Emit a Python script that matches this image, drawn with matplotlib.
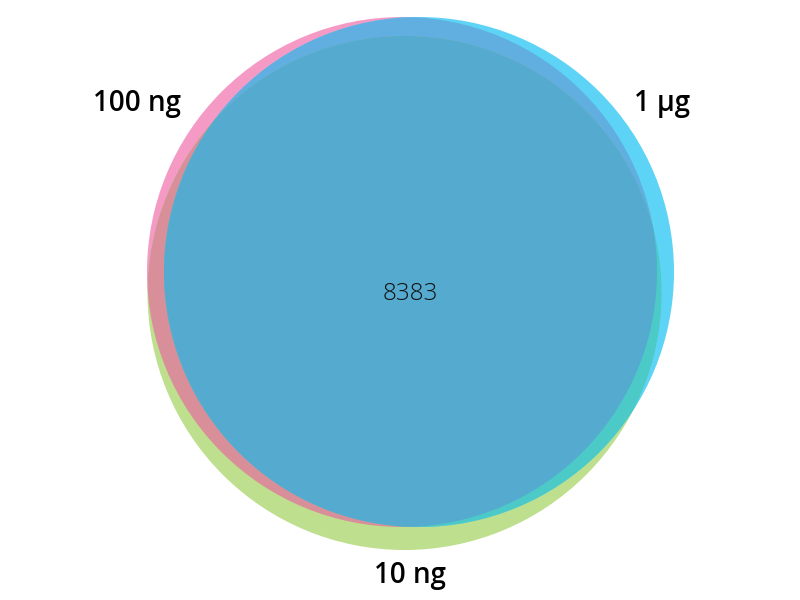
import numpy as np
import matplotlib
matplotlib.use('Agg')
import matplotlib.pyplot as plt
from matplotlib.patches import Circle, Polygon

# data
set_labels = ['100 ng', '1 µg', '10 ng']
shared_count = 8383

# colours: single sets, pairs and the triple region
set_colors = ['#F49AC5', '#5DD3F5', '#BEDF8D']
pair_colors = {(0, 1): '#60AFE0', (0, 2): '#D98F9A', (1, 2): '#4CCAC8'}
triple_color = '#55ABCF'

# layout (pixel space, y down)
centers = [(402, 272), (419, 272), (404.5, 293)]
radii = [255, 255, 257]
label_pos = [(137, 104), (662, 104), (410, 575)]

fig = plt.figure(figsize=(8, 6), dpi=100)
ax = fig.add_axes([0, 0, 1, 1])
ax.set_xlim(0, 800)
ax.set_ylim(600, 0)
ax.set_aspect('equal')
ax.axis('off')

circles = []
for i in [0, 2, 1]:
    c = Circle(centers[i], radii[i], fc=set_colors[i], ec='none', zorder=1)
    ax.add_patch(c)
for i in range(3):
    circles.append(Circle(centers[i], radii[i], fc='none', ec='none'))
    ax.add_patch(circles[-1])

# pair overlaps: one circle clipped by the other
for (a, b), col in pair_colors.items():
    p = Circle(centers[b], radii[b], fc=col, ec='none', zorder=2)
    ax.add_patch(p)
    p.set_clip_path(circles[a])

# triple overlap: points of every rim that sit inside the other two discs
pts = []
t = np.linspace(0, 2 * np.pi, 1500)
for i in range(3):
    xs = centers[i][0] + radii[i] * np.cos(t)
    ys = centers[i][1] + radii[i] * np.sin(t)
    ok = np.ones_like(xs, dtype=bool)
    for j in range(3):
        if j != i:
            ok &= np.hypot(xs - centers[j][0], ys - centers[j][1]) <= radii[j] + 1e-6
    pts.append(np.column_stack([xs[ok], ys[ok]]))
pts = np.vstack(pts)
mid = pts.mean(axis=0)
pts = pts[np.argsort(np.arctan2(pts[:, 1] - mid[1], pts[:, 0] - mid[0]))]
ax.add_patch(Polygon(pts, closed=True, fc=triple_color, ec='none', zorder=3))

for lab, (x, y) in zip(set_labels, label_pos):
    ax.text(x, y, lab, ha='center', va='center', fontsize=20,
            family=['Open Sans', 'DejaVu Sans'], fontweight='semibold',
            color='black', zorder=5)

ax.text(410, 294, str(shared_count), ha='center', va='center', fontsize=17.5,
        family=['Open Sans', 'DejaVu Sans'], fontweight='light',
        color='#111111', zorder=5)

fig.savefig('out.png', dpi=100, facecolor='white')
